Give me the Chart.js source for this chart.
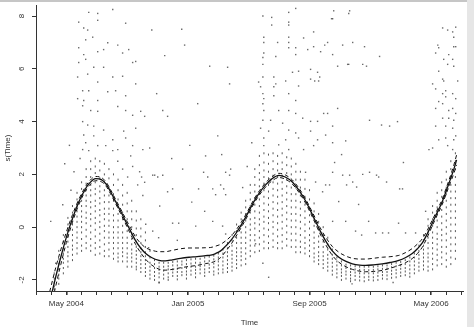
<!DOCTYPE html>
<html><head><meta charset="utf-8">
<script src="https://cdn.jsdelivr.net/npm/chart.js@4"></script>
<style>html,body{margin:0;padding:0;background:#fff}#wrap{width:474px;height:327px}</style>
</head><body><div id="wrap"><canvas id="c" width="474" height="327"></canvas></div>
<script>
// x is months since Jan 2004
const xTickMonths = [2,3,4,5,6,7,8,9,10,11,12,13,14,15,16,17,18,19,20,21,22,23,24,25,26,27,28,29,30];
const majorMonths = [4,12,20,28];
const majorLabels = ['May 2004','Jan 2005','Sep 2005','May 2006'];
const yTickValues = [-2,0,2,4,6,8];
const yTickLabels = ['-2','0','2','4','6','8'];

// smooth term s(Time) with +/- 2 se bands
const smoothMonths = [2.9,3.3,3.63,4.0,4.4,4.83,5.2,5.49,5.93,6.3,6.59,6.9,7.24,7.57,7.9,8.25,8.56,8.9,9.22,9.6,10.09,10.5,10.97,11.5,12.07,12.6,13.16,13.5,13.82,14.15,14.48,14.8,15.14,15.5,15.8,16.34,16.7,17.11,17.5,17.99,18.4,18.87,19.3,19.76,20.1,20.4,20.7,21.06,21.5,21.93,22.4,22.82,23.3,23.69,24.2,24.79,25.3,25.88,26.3,26.76,27.1,27.42,27.75,28.08,28.4,28.74,29.0,29.28,29.5,29.68];
const fitValues = [-2.85,-1.88,-1.14,-0.38,0.33,0.97,1.4,1.65,1.84,1.8,1.65,1.35,0.97,0.6,0.22,-0.18,-0.52,-0.8,-1.0,-1.15,-1.26,-1.28,-1.24,-1.18,-1.14,-1.12,-1.08,-1.06,-1.0,-0.9,-0.72,-0.52,-0.25,0.08,0.38,0.97,1.3,1.6,1.82,1.96,1.9,1.71,1.4,0.97,0.58,0.22,-0.14,-0.52,-0.9,-1.14,-1.3,-1.39,-1.44,-1.45,-1.43,-1.39,-1.34,-1.26,-1.16,-1.0,-0.82,-0.6,-0.25,0.16,0.55,0.97,1.38,1.83,2.2,2.55];
const upperValues = [-2.45,-1.53,-0.86,-0.18,0.47,1.07,1.48,1.73,1.92,1.88,1.73,1.43,1.05,0.69,0.32,-0.06,-0.38,-0.62,-0.78,-0.87,-0.93,-0.93,-0.88,-0.82,-0.79,-0.79,-0.78,-0.77,-0.72,-0.65,-0.52,-0.36,-0.13,0.18,0.47,1.05,1.38,1.68,1.9,2.04,1.98,1.79,1.48,1.05,0.67,0.32,-0.02,-0.38,-0.73,-0.95,-1.1,-1.18,-1.21,-1.21,-1.18,-1.14,-1.12,-1.07,-0.97,-0.81,-0.64,-0.44,-0.12,0.27,0.65,1.07,1.49,1.96,2.36,2.74];
const lowerValues = [-3.25,-2.23,-1.42,-0.58,0.19,0.87,1.32,1.57,1.76,1.72,1.57,1.27,0.89,0.51,0.12,-0.3,-0.66,-0.98,-1.22,-1.43,-1.59,-1.63,-1.6,-1.54,-1.49,-1.45,-1.38,-1.35,-1.28,-1.15,-0.92,-0.68,-0.37,-0.02,0.29,0.89,1.22,1.52,1.74,1.88,1.82,1.63,1.32,0.89,0.49,0.12,-0.26,-0.66,-1.07,-1.33,-1.5,-1.6,-1.67,-1.69,-1.68,-1.64,-1.56,-1.45,-1.35,-1.19,-1.0,-0.76,-0.38,0.05,0.45,0.87,1.27,1.7,2.04,2.36];

// partial residuals: dense vertical columns [month, values]
const peak1Columns = [
 [3.2,[-1.75,-1.95,-2.1,-2.25,-2.35]],
 [3.5,[-0.9,-1.2,-1.4,-1.6,-1.8,-1.95,-2.15]],
 [3.8,[-0.3,-0.55,-0.8,-1.0,-1.2,-1.35,-1.55,-1.75]],
 [4.1,[0.35,0.1,-0.15,-0.35,-0.55,-0.75,-0.95,-1.1,-1.3,-1.5]],
 [4.4,[0.8,0.55,0.3,0.1,-0.1,-0.3,-0.5,-0.7,-0.85,-1.05,-1.25]],
 [4.7,[1.3,1.05,0.8,0.6,0.4,0.2,0.0,-0.2,-0.4,-0.6,-0.8,-1.0]],
 [5.0,[1.7,1.45,1.2,1.0,0.8,0.6,0.4,0.2,0.0,-0.2,-0.45,-0.7,-0.9]],
 [5.3,[2.2,1.9,1.65,1.4,1.2,1.0,0.8,0.55,0.35,0.15,-0.1,-0.35,-0.6,-0.8]],
 [5.6,[2.5,2.2,1.9,1.6,1.4,1.2,0.95,0.75,0.5,0.3,0.05,-0.2,-0.45,-0.7,-0.9]],
 [5.9,[2.6,2.3,2.05,1.7,1.45,1.25,1.0,0.8,0.6,0.35,0.15,-0.1,-0.35,-0.6,-0.8,-1.05]],
 [6.2,[2.5,2.15,1.85,1.55,1.35,1.1,0.9,0.65,0.45,0.2,0.0,-0.25,-0.5,-0.75,-1.0]],
 [6.5,[2.4,2.0,1.7,1.4,1.2,0.95,0.7,0.5,0.3,0.05,-0.15,-0.4,-0.65,-0.9,-1.1]],
 [6.8,[2.2,1.85,1.5,1.2,0.95,0.7,0.5,0.25,0.05,-0.2,-0.4,-0.6,-0.85,-1.1]],
 [7.1,[2.0,1.6,1.25,1.0,0.7,0.45,0.25,0.0,-0.2,-0.4,-0.6,-0.8,-1.0,-1.2]],
 [7.4,[1.8,1.4,1.05,0.75,0.5,0.25,0.0,-0.2,-0.4,-0.6,-0.8,-1.0,-1.15,-1.3]],
 [7.7,[1.6,1.2,0.85,0.55,0.3,0.05,-0.2,-0.4,-0.6,-0.8,-0.95,-1.1,-1.3]],
 [8.0,[1.3,0.9,0.6,0.3,0.05,-0.15,-0.4,-0.6,-0.8,-1.0,-1.15,-1.3,-1.5]],
 [8.3,[1.0,0.6,0.3,0.0,-0.25,-0.45,-0.65,-0.85,-1.0,-1.15,-1.3,-1.5]],
 [8.6,[0.6,0.25,-0.05,-0.3,-0.55,-0.75,-0.9,-1.05,-1.2,-1.35,-1.5,-1.6]],
 [8.9,[0.3,-0.05,-0.35,-0.6,-0.8,-0.95,-1.1,-1.25,-1.4,-1.55,-1.7]],
 [9.2,[-0.2,-0.5,-0.75,-0.95,-1.1,-1.25,-1.4,-1.55,-1.7,-1.85]]
];
const trough1Columns = [
 [9.5,[-0.9,-1.15,-1.35,-1.5,-1.65,-1.8,-1.95]],
 [9.8,[-1.25,-1.4,-1.55,-1.7,-1.85,-2.0]],
 [10.1,[-1.35,-1.5,-1.62,-1.75,-1.9,-2.1]],
 [10.4,[-1.35,-1.5,-1.65,-1.8,-1.95]],
 [10.7,[-1.35,-1.48,-1.6,-1.75,-1.9,-2.0]],
 [11.0,[-1.32,-1.45,-1.6,-1.72,-1.85]],
 [11.3,[-1.3,-1.45,-1.58,-1.7,-1.85,-1.98]],
 [11.6,[-1.3,-1.42,-1.55,-1.7,-1.82]],
 [11.9,[-1.25,-1.4,-1.55,-1.68,-1.8,-1.95]],
 [12.2,[-1.22,-1.38,-1.5,-1.65,-1.8]],
 [12.5,[-1.2,-1.35,-1.5,-1.62,-1.75,-1.9]],
 [12.8,[-1.2,-1.35,-1.48,-1.6,-1.75]],
 [13.1,[-1.15,-1.3,-1.45,-1.6,-1.72,-1.85]],
 [13.4,[-1.12,-1.28,-1.42,-1.55,-1.7]],
 [13.7,[-1.08,-1.22,-1.38,-1.52,-1.68,-1.8]],
 [14.0,[-1.0,-1.15,-1.3,-1.45,-1.6,-1.75]],
 [14.3,[-0.85,-1.0,-1.15,-1.3,-1.45,-1.6,-1.72]],
 [14.6,[-0.6,-0.8,-0.95,-1.1,-1.25,-1.4,-1.55,-1.7]],
 [14.9,[-0.3,-0.5,-0.7,-0.9,-1.05,-1.2,-1.35,-1.5,-1.65]],
 [15.2,[0.1,-0.15,-0.4,-0.6,-0.8,-0.95,-1.1,-1.25,-1.4,-1.55]]
];
const peak2Columns = [
 [15.5,[0.55,0.3,0.05,-0.2,-0.4,-0.6,-0.8,-0.95,-1.1,-1.25,-1.45]],
 [15.8,[1.0,0.75,0.5,0.25,0.0,-0.2,-0.4,-0.6,-0.8,-1.0,-1.2,-1.4]],
 [16.1,[1.6,1.3,1.05,0.8,0.55,0.3,0.1,-0.1,-0.3,-0.5,-0.7,-0.9,-1.1]],
 [16.4,[2.2,1.9,1.6,1.35,1.1,0.85,0.6,0.35,0.15,-0.05,-0.3,-0.5,-0.7,-0.95]],
 [16.7,[2.7,2.35,2.05,1.8,1.55,1.3,1.05,0.8,0.55,0.3,0.1,-0.15,-0.4,-0.65,-0.9]],
 [17.0,[2.8,2.45,2.15,1.9,1.65,1.4,1.15,0.9,0.65,0.4,0.2,-0.05,-0.3,-0.55,-0.8]],
 [17.3,[2.75,2.4,2.1,1.85,1.6,1.35,1.1,0.85,0.6,0.35,0.15,-0.1,-0.35,-0.6,-0.8]],
 [17.6,[2.8,2.5,2.2,1.95,1.7,1.45,1.2,0.95,0.7,0.45,0.2,0.0,-0.25,-0.5,-0.75]],
 [17.9,[2.7,2.4,2.15,1.9,1.65,1.4,1.15,0.9,0.65,0.4,0.15,-0.1,-0.35,-0.6,-0.8]],
 [18.2,[2.8,2.45,2.2,1.95,1.7,1.45,1.2,0.95,0.7,0.45,0.2,-0.05,-0.3,-0.55,-0.8]],
 [18.5,[2.65,2.35,2.05,1.8,1.55,1.3,1.05,0.8,0.55,0.3,0.05,-0.2,-0.45,-0.7]],
 [18.8,[2.6,2.3,2.0,1.75,1.5,1.25,1.0,0.75,0.5,0.25,0.0,-0.25,-0.5,-0.75]],
 [19.1,[2.4,2.1,1.8,1.5,1.25,1.0,0.75,0.5,0.25,0.0,-0.25,-0.5,-0.75,-0.95]],
 [19.4,[2.1,1.8,1.5,1.2,0.95,0.7,0.45,0.2,-0.05,-0.3,-0.55,-0.75,-0.95]],
 [19.7,[1.8,1.45,1.15,0.85,0.6,0.35,0.1,-0.15,-0.4,-0.6,-0.8,-1.0]],
 [20.0,[1.4,1.05,0.75,0.45,0.2,-0.05,-0.3,-0.5,-0.7,-0.9,-1.1]],
 [20.3,[0.9,0.6,0.3,0.05,-0.2,-0.4,-0.6,-0.8,-1.0,-1.15,-1.3]],
 [20.6,[0.5,0.2,-0.1,-0.35,-0.55,-0.75,-0.95,-1.1,-1.25,-1.4]],
 [20.9,[0.0,-0.3,-0.55,-0.75,-0.95,-1.1,-1.25,-1.4,-1.55]],
 [21.2,[-0.4,-0.65,-0.85,-1.05,-1.2,-1.35,-1.5,-1.65]]
];
const trough2Columns = [
 [21.5,[-0.85,-1.05,-1.2,-1.35,-1.5,-1.65,-1.8]],
 [21.8,[-1.15,-1.3,-1.45,-1.6,-1.75,-1.9]],
 [22.1,[-1.3,-1.45,-1.6,-1.72,-1.85,-2.0]],
 [22.4,[-1.42,-1.55,-1.68,-1.8,-1.95]],
 [22.7,[-1.45,-1.58,-1.7,-1.82,-1.95,-2.05]],
 [23.0,[-1.48,-1.6,-1.72,-1.85,-2.0]],
 [23.3,[-1.5,-1.62,-1.75,-1.88,-2.02]],
 [23.6,[-1.5,-1.62,-1.75,-1.9,-2.05]],
 [23.9,[-1.5,-1.63,-1.75,-1.88,-2.0]],
 [24.2,[-1.5,-1.62,-1.75,-1.9,-2.02]],
 [24.5,[-1.48,-1.6,-1.72,-1.85,-2.0]],
 [24.8,[-1.45,-1.58,-1.7,-1.82,-1.95]],
 [25.1,[-1.45,-1.57,-1.7,-1.83,-1.97]],
 [25.4,[-1.4,-1.52,-1.65,-1.78,-1.92]],
 [25.7,[-1.35,-1.48,-1.62,-1.75,-1.9]],
 [26.0,[-1.32,-1.45,-1.58,-1.72,-1.85]],
 [26.3,[-1.25,-1.4,-1.55,-1.68,-1.82]],
 [26.6,[-1.15,-1.3,-1.45,-1.6,-1.75,-1.88]],
 [26.9,[-1.0,-1.15,-1.3,-1.45,-1.6,-1.75]],
 [27.2,[-0.7,-0.9,-1.05,-1.2,-1.35,-1.5,-1.65]]
];
const peak3Columns = [
 [27.5,[-0.3,-0.5,-0.7,-0.85,-1.0,-1.15,-1.3,-1.45,-1.6]],
 [27.8,[0.3,0.05,-0.2,-0.4,-0.6,-0.8,-1.0,-1.15,-1.3,-1.5,-1.65]],
 [28.1,[0.8,0.55,0.3,0.05,-0.2,-0.4,-0.6,-0.8,-1.0,-1.2,-1.4,-1.6]],
 [28.4,[1.3,1.0,0.75,0.5,0.25,0.0,-0.25,-0.45,-0.65,-0.85,-1.05,-1.25,-1.45]],
 [28.7,[1.7,1.4,1.15,0.9,0.65,0.4,0.15,-0.1,-0.3,-0.5,-0.75,-0.95,-1.15,-1.4]],
 [29.0,[2.1,1.8,1.5,1.25,1.0,0.75,0.5,0.25,0.0,-0.25,-0.5,-0.75,-1.0,-1.25,-1.5]],
 [29.3,[2.5,2.2,1.9,1.6,1.35,1.1,0.85,0.6,0.35,0.1,-0.15,-0.4,-0.65,-0.9,-1.15,-1.4]],
 [29.6,[2.8,2.5,2.2,1.9,1.6,1.35,1.1,0.85,0.6,0.35,0.1,-0.15,-0.4,-0.65,-0.9,-1.2]]
];

// scattered residuals [month, value]
const peak1Sparse = [[5.47,8.14],[6.06,8.1],[7.05,8.25],[4.81,7.77],[6.06,7.84],[5.14,7.55],[5.40,7.47],[7.90,7.73],[5.27,7.1],[5.73,7.2],[6.72,6.99],[7.38,6.9],[4.81,6.8],[5.14,6.54],[6.06,6.65],[6.45,6.73],[8.10,6.73],[5.27,6.36],[7.70,6.6],[4.81,6.24],[5.80,6.06],[6.45,6.06],[8.36,6.24],[8.56,6.28],[5.40,5.8],[4.74,5.69],[7.05,5.69],[7.70,5.72],[6.06,5.5],[8.56,5.43],[5.07,5.17],[5.47,5.17],[6.72,5.13],[7.24,5.17],[7.90,4.98],[4.74,4.87],[5.14,4.8],[6.06,4.8],[7.38,4.57],[5.07,4.6],[5.60,4.42],[6.06,4.39],[7.90,4.42],[8.36,4.24],[8.89,4.39],[5.07,4.0],[5.40,3.87],[5.80,3.83],[6.45,3.68],[7.77,3.64],[8.56,3.75],[5.14,3.49],[5.80,3.46],[7.05,3.31],[7.90,3.38],[5.27,3.2],[6.06,3.09],[6.59,3.09],[7.38,2.94],[8.36,3.09],[5.07,2.94],[5.47,2.9],[7.05,2.9],[9.03,2.94],[2.97,0.22],[3.76,0.85],[3.89,2.4],[3.3,-1.37],[9.62,7.47],[9.94,5.06],[9.15,4.2],[8.95,1.9],[9.81,1.97],[7.38,2.5],[7.70,2.2],[8.03,1.9],[8.36,2.3],[8.69,1.6],[9.03,1.2],[8.23,2.7],[8.82,2.1],[9.15,1.7],[4.3,1.4],[4.5,2.1],[4.9,2.6],[4.2,3.1]];
const trough1Sparse = [[9.68,1.97],[10.01,1.9],[10.34,1.97],[10.66,1.34],[10.99,1.45],[11.65,2.2],[12.70,1.45],[13.03,2.08],[13.30,1.9],[13.63,1.45],[13.82,1.23],[14.15,1.6],[14.35,1.45],[14.48,2.08],[14.81,2.2],[12.51,0.04],[10.99,0.15],[11.39,0.15],[10.07,-0.4],[9.68,-0.15],[13.63,0.22],[14.28,0.04],[14.48,-0.26],[9.22,0.11],[9.41,-0.78],[14.48,1.23],[13.16,2.7],[11.59,7.5],[13.43,6.1],[14.61,6.06],[10.47,6.5],[14.74,5.43],[12.64,4.68],[13.96,3.46],[10.34,4.42],[10.66,4.2],[14.74,1.97],[14.22,2.75],[11.78,6.9],[9.48,3.0],[10.93,2.6],[12.12,3.1],[10.14,0.8],[12.25,0.95],[13.1,0.6],[11.3,-0.5],[10.1,-2.1]];
const peak2Sparse = [[16.93,8.0],[17.51,7.95],[17.51,7.66],[18.63,8.14],[18.63,7.77],[18.63,7.66],[19.09,8.29],[20.27,7.4],[16.99,7.2],[16.99,7.0],[18.63,7.2],[18.63,7.0],[17.90,7.0],[19.61,7.17],[18.63,6.8],[19.09,6.8],[19.88,6.73],[20.27,6.84],[16.99,6.6],[16.93,6.43],[17.78,6.47],[19.09,6.54],[20.73,6.65],[16.93,6.17],[19.28,5.91],[20.07,5.98],[20.53,5.87],[18.88,5.87],[16.93,5.69],[17.65,5.69],[20.07,5.61],[20.60,5.54],[16.65,5.5],[17.78,5.43],[18.43,5.54],[16.78,5.32],[17.65,5.32],[19.28,5.35],[16.93,5.06],[18.63,5.06],[17.65,4.98],[16.99,4.87],[19.09,4.8],[16.93,4.68],[16.99,4.42],[17.97,4.42],[18.63,4.42],[19.09,4.31],[20.93,4.31],[16.93,4.05],[17.44,4.05],[18.23,3.94],[19.55,4.13],[20.07,4.01],[20.53,4.01],[16.78,3.75],[17.31,3.64],[18.63,3.68],[19.09,3.57],[20.07,3.64],[21.06,3.49],[16.99,3.38],[18.43,3.31],[19.28,3.38],[20.53,3.31],[16.99,3.09],[17.97,3.12],[18.63,2.94],[19.61,2.94],[20.27,3.09],[19.74,2.08],[20.40,1.71],[20.86,1.34],[21.06,1.6],[16.93,-1.37],[17.31,-1.9],[16.45,-0.63],[15.9,2.3],[16.2,3.2],[15.6,1.5]];
const trough2Sparse = [[21.59,8.2],[22.58,8.1],[21.52,7.9],[21.19,7.0],[22.84,7.0],[21.52,6.54],[21.85,6.1],[22.58,6.17],[23.50,6.17],[21.85,4.5],[21.19,4.31],[21.52,3.83],[22.38,3.27],[21.52,3.2],[21.52,2.08],[22.18,1.97],[22.84,1.71],[21.92,0.97],[21.52,0.22],[22.38,0.22],[23.03,-0.15],[23.23,0.86],[21.0,6.9],[22.18,6.9],[23.62,6.84],[24.61,6.47],[23.75,6.1],[22.51,6.17],[23.95,4.05],[25.27,3.83],[24.74,3.87],[25.79,4.0],[22.64,1.97],[23.50,2.0],[23.95,2.08],[24.41,1.97],[21.32,1.6],[22.44,1.6],[23.10,1.52],[25.07,1.71],[25.93,1.45],[22.11,2.75],[21.65,2.45],[20.34,5.54],[20.67,5.69],[21.45,7.9],[22.64,8.2],[23.89,0.22],[24.35,-0.22],[24.81,-0.22],[25.20,-0.22],[25.86,0.15],[26.32,-0.22],[24.55,1.9],[26.12,1.45],[26.18,2.45],[27.64,0.6],[26.98,-0.22],[23.43,-0.3],[22.8,-2.15],[25.5,-2.1]];
const peak3Sparse = [[28.76,7.55],[29.09,7.47],[29.42,7.4],[29.62,7.58],[29.49,7.2],[28.44,6.9],[28.50,6.8],[29.49,6.84],[29.62,6.84],[28.30,6.6],[29.16,6.54],[28.83,6.36],[29.42,6.36],[29.09,6.17],[29.49,6.1],[28.50,5.91],[28.76,5.61],[28.83,5.54],[29.75,5.54],[28.10,5.43],[28.30,5.24],[28.96,5.17],[28.76,5.06],[28.96,4.94],[29.42,5.06],[29.62,4.87],[28.50,4.76],[28.76,4.68],[28.30,4.5],[29.16,4.42],[29.42,4.5],[29.62,4.31],[28.76,4.13],[29.16,4.13],[29.49,4.05],[28.30,3.83],[28.96,3.83],[29.42,3.75],[28.50,3.31],[28.96,3.38],[29.49,3.31],[29.62,3.46],[29.09,3.09],[29.42,2.94],[27.86,2.94],[28.10,3.0]];

const toPts = (ms, vs) => ms.map((m, i) => ({x: m, y: vs[i]}));
const colPts = cols => cols.flatMap(([m, vals]) => vals.map(v => ({x: m, y: v})));
const pairPts = arr => arr.map(([m, v]) => ({x: m, y: v}));

const densePts = [peak1Columns, trough1Columns, peak2Columns, trough2Columns, peak3Columns].flatMap(colPts);
const sparsePts = [peak1Sparse, trough1Sparse, peak2Sparse, trough2Sparse, peak3Sparse].flatMap(pairPts);

const FONT = '"Liberation Sans", Arial, Helvetica, sans-serif';
const INK = '#333';

const framePlugin = {
  id: 'frame',
  beforeDraw(chart) {
    const ctx = chart.ctx;
    ctx.save();
    ctx.fillStyle = '#fff'; ctx.fillRect(0, 0, 474, 327);
    ctx.fillStyle = '#c6c6c6'; ctx.fillRect(0, 0, 474, 2);
    ctx.fillStyle = '#e6e6e6'; ctx.fillRect(467, 0, 7, 327);
    ctx.restore();
  },
  afterDraw(chart) {
    const s = chart.scales.y, ctx = chart.ctx;
    ctx.save();
    ctx.font = '8px ' + FONT;
    ctx.fillStyle = INK;
    ctx.textAlign = 'center';
    ctx.textBaseline = 'middle';
    yTickValues.forEach((v, i) => {
      const py = s.getPixelForValue(v);
      ctx.save();
      ctx.translate(22, py);
      ctx.rotate(-Math.PI / 2);
      ctx.fillText(yTickLabels[i], 0, 0);
      ctx.restore();
    });
    ctx.restore();
  }
};

new Chart(document.getElementById('c'), {
  type: 'scatter',
  data: {
    datasets: [
      {type: 'line', data: toPts(smoothMonths, fitValues), borderColor: '#111', borderWidth: 1.3, pointRadius: 0, fill: false, cubicInterpolationMode: 'monotone'},
      {type: 'line', data: toPts(smoothMonths, upperValues), borderColor: '#111', borderWidth: 1, borderDash: [4, 3], pointRadius: 0, fill: false, cubicInterpolationMode: 'monotone'},
      {type: 'line', data: toPts(smoothMonths, lowerValues), borderColor: '#111', borderWidth: 1, borderDash: [4, 3], pointRadius: 0, fill: false, cubicInterpolationMode: 'monotone'},
      {data: densePts, pointStyle: 'line', rotation: 90, pointRadius: 1.0, borderWidth: 1, borderColor: 'rgba(45,45,45,0.8)', backgroundColor: 'rgba(45,45,45,0.8)'},
      {data: sparsePts, pointStyle: 'rect', pointRadius: 1, borderWidth: 0, backgroundColor: 'rgba(70,70,70,0.8)'}
    ]
  },
  options: {
    responsive: false,
    devicePixelRatio: 1,
    animation: false,
    events: [],
    layout: {padding: {left: 0, right: 11, top: 0, bottom: 0}},
    plugins: {legend: {display: false}, tooltip: {enabled: false}},
    scales: {
      x: {
        type: 'linear', min: 2, max: 30.1,
        afterBuildTicks: s => { s.ticks = xTickMonths.map(v => ({value: v})); },
        afterFit: s => { s.height = 36; },
        grid: {display: true, drawOnChartArea: false, drawTicks: true, tickLength: 4, color: INK,
               lineWidth: c => (c.tick && majorMonths.includes(c.tick.value)) ? 1.6 : 1},
        border: {display: true, color: INK, width: 1},
        ticks: {autoSkip: false, maxRotation: 0, minRotation: 0, padding: 4, color: INK,
                font: {family: FONT, size: 8},
                callback: v => { const i = majorMonths.indexOf(v); return i >= 0 ? majorLabels[i] : ''; }},
        title: {display: true, text: 'Time', color: INK, font: {family: FONT, size: 8, lineHeight: 1}, padding: {top: 0, bottom: 0}}
      },
      y: {
        type: 'linear', min: -2.42, max: 8.42,
        afterBuildTicks: s => { s.ticks = yTickValues.map(v => ({value: v})); },
        afterFit: s => { s.width = 36; },
        grid: {display: true, drawOnChartArea: false, drawTicks: true, tickLength: 4, color: INK, lineWidth: 1},
        border: {display: true, color: INK, width: 1},
        ticks: {display: false},
        title: {display: true, text: 's(Time)', color: INK, font: {family: FONT, size: 8, lineHeight: 1}, padding: {top: 4, bottom: 0}}
      }
    }
  },
  plugins: [framePlugin]
});
</script></body></html>
